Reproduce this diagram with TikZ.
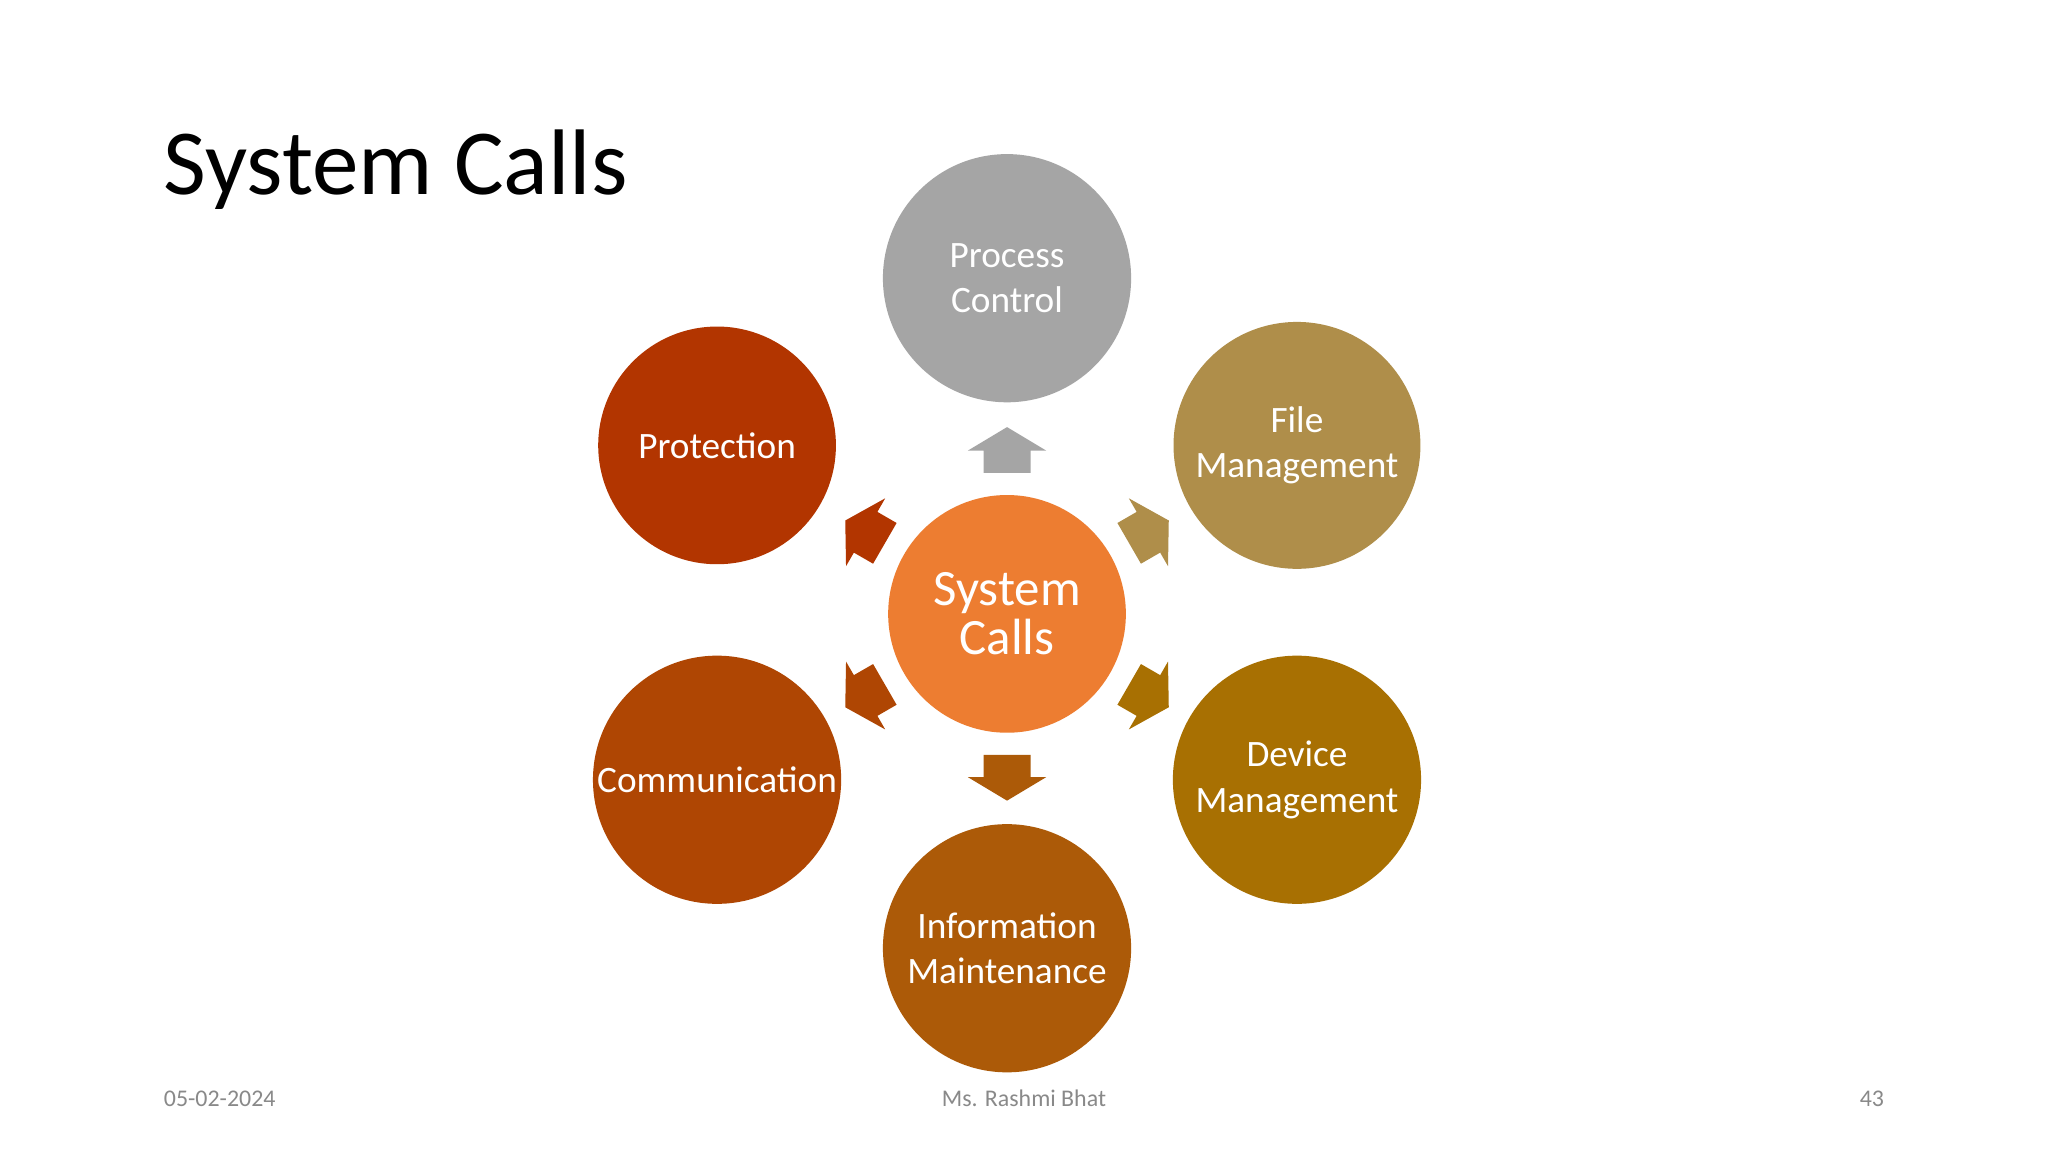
\documentclass[tikz,border=0pt]{standalone}
\usepackage{fontspec}
\setmainfont{Carlito}
\begin{document}
\begin{tikzpicture}[x=0.013061cm,y=-0.013061cm,
  circ/.style={circle,inner sep=0pt,text=white,align=center,font=\fontsize{10.6pt}{13pt}\selectfont},
  blk/.style={line width=0pt}]
\definecolor{cCen}{HTML}{ED7D31}
\definecolor{cPro}{HTML}{A5A5A5}
\definecolor{cFil}{HTML}{AF8E4A}
\definecolor{cDev}{HTML}{A87002}
\definecolor{cInf}{HTML}{AC5A08}
\definecolor{cCom}{HTML}{AF4603}
\definecolor{cPrt}{HTML}{B23500}
\definecolor{foot}{HTML}{898989}
\useasboundingbox[fill=white] (0,0) rectangle (1568,882);
\node[anchor=west,font=\fontsize{26.5pt}{30pt}\selectfont] (title) at (116,130) {System Calls};
\node[circ,fill=cCen,minimum size=2.377cm,font=\fontsize{14.5pt}{16pt}\selectfont] (cen) at (771,470) {System\\[-2pt]Calls};
\node[circ,fill=cPro,minimum size=2.482cm] (pc) at (771,213) {Process\\Control};
\node[circ,fill=cFil,minimum size=2.469cm] (fm) at (993,341) {File\\Management};
\node[circ,fill=cDev,minimum size=2.482cm] (dm) at (993,597) {Device\\Management};
\node[circ,fill=cInf,minimum size=2.482cm] (im) at (771,726) {Information\\Maintenance};
\node[circ,fill=cCom,minimum size=2.482cm] (cm) at (549,597) {Communication};
\node[circ,fill=cPrt,minimum size=2.377cm] (pr) at (549,341) {Protection};
\foreach \a/\c in {90/cPro,30/cFil,-30/cDev,-90/cInf,-150/cCom,150/cPrt}{
  \begin{scope}[shift={({771+125*cos(\a)},{470-125*sin(\a)})},rotate=\a]
    \fill[\c] (-17,-18) -- (0,-18) -- (0,-30) -- (18,0) -- (0,30) -- (0,18) -- (-17,18) -- cycle;
  \end{scope}}
\node[text=foot,anchor=west,font=\fontsize{6.8pt}{8pt}\selectfont] (date) at (116,841) {05-02-2024};
\node[text=foot,font=\fontsize{6.8pt}{8pt}\selectfont] (auth) at (784,841) {Ms. Rashmi Bhat};
\node[text=foot,anchor=east,font=\fontsize{6.8pt}{8pt}\selectfont] (num) at (1452,841) {43};
\end{tikzpicture}
\end{document}
